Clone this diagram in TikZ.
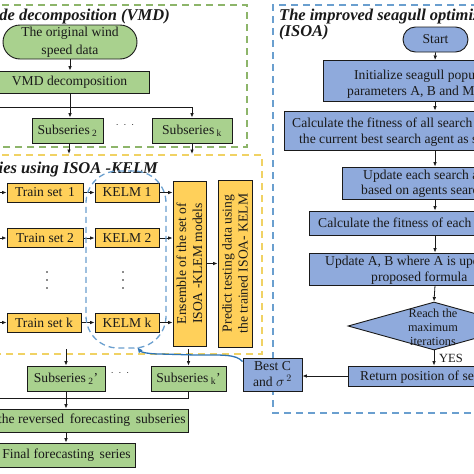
\documentclass[tikz,border=0pt]{standalone}
\usepackage{fontspec}
\setmainfont{Liberation Serif}
\usetikzlibrary{arrows.meta,shapes.geometric,calc}
\definecolor{gfill}{HTML}{A9D18E}
\definecolor{yfill}{HTML}{FFD05A}
\definecolor{bfill}{HTML}{8FAADC}
\definecolor{gdash}{HTML}{8DB56A}
\definecolor{ydash}{HTML}{F0D264}
\definecolor{bdash}{HTML}{6A9FCF}
\definecolor{barrow}{HTML}{2E75B6}
\definecolor{ink}{HTML}{1A1A1A}
\newcommand\bodyfs{\fontsize{13.6}{16}\selectfont}
\newcommand\ttlfs{\fontsize{16.5}{19}\selectfont\bfseries\itshape}
\newcommand\smallfs{\fontsize{12.3}{14}\selectfont}
\tikzset{
  box/.style={draw=ink, line width=0.9pt, inner sep=0pt, text=ink, font=\bodyfs, align=center},
  gbox/.style={box, fill=gfill},
  ybox/.style={box, fill=yfill},
  bbox/.style={box, fill=bfill},
  arr/.style={-{Latex[length=4.5pt,width=3.6pt]}, line width=0.8pt, draw=ink},
  ln/.style={line width=0.8pt, draw=ink},
  txt/.style={inner sep=0pt, text=ink, font=\bodyfs, anchor=base west},
  ttl/.style={inner sep=0pt, text=ink, font=\ttlfs},
  gd/.style={draw=gdash, line width=1.4pt, dash pattern=on 7pt off 5pt},
  yd/.style={draw=ydash, line width=1.4pt, dash pattern=on 7pt off 5pt},
  bd/.style={draw=bdash, line width=1.4pt, dash pattern=on 7pt off 5pt},
}
\begin{document}
\begin{tikzpicture}[x=1pt,y=-1pt]
\useasboundingbox (0,0) rectangle (474,474);
\fill[white] (0,0) rectangle (474,474);
\clip (0,0) rectangle (474,474);

% ---------- dashed frames ----------
\draw[gd] (-10,5) -- (247,5) -- (247,147) -- (-10,147);
\draw[yd] (-10,155) -- (262,155) -- (262,354) -- (-10,354);
\draw[bd] (490,5) -- (273,5) -- (273,413) -- (490,413);

% ---------- titles ----------
\node[ttl, anchor=base east] (t1) at (170,20) {Variational mode decomposition (VMD)};
\node[ttl, anchor=base east] (t2) at (158,173) {Forecasting subseries using ISOA -KELM};
\node[ttl, anchor=base west] (t3) at (279,20) {The improved seagull optimization algorithm};
\node[ttl, anchor=base west] (t3b) at (279,36) {(ISOA)};

% ---------- VMD part ----------
\node[gbox, minimum width=134pt, minimum height=34pt, rounded corners=17pt,
      font=\fontsize{13.6}{18}\selectfont] (orig) at (70,42) {The original wind\\speed data};
\node[gbox, minimum width=159pt, minimum height=22pt] (vmd) at (69.5,82) {VMD decomposition};
\node[gbox, minimum width=71pt, minimum height=25pt] (sub2) at (67.5,130.5) {Subseries\,\textsubscript{2}};
\node[gbox, minimum width=80pt, minimum height=25pt] (subk) at (192,130.5) {Subseries\,\textsubscript{k}};
\node[inner sep=0pt, text=ink] (dots1) at (125,125) {$\cdot\;\cdot\;\cdot$};

\coordinate (j1) at (70,107);
\coordinate (jl) at (-5,107);
\coordinate (jr) at (192,107);
\draw[arr] (orig.south -| j1) -- (vmd.north -| j1);
\draw[ln] (vmd.south -| j1) -- (j1);
\draw[ln] (jl) -- (jr);
\draw[arr] (j1) -- (sub2.north -| j1);
\draw[arr] (jr) -- (subk.north);
\coordinate (s2e) at (69,154);
\coordinate (ske) at (192,154);
\draw[arr] (sub2.south -| s2e) -- (s2e);
\draw[arr] (subk.south) -- (ske);

% ---------- KELM part ----------
\node[ybox, minimum width=76pt, minimum height=19pt] (tr1) at (45,192.5) {Train set\, 1};
\node[ybox, minimum width=76pt, minimum height=19pt] (tr2) at (45,238) {Train set 2};
\node[ybox, minimum width=74pt, minimum height=19pt] (trk) at (44,322.5) {Train set k};
\node[ybox, minimum width=64pt, minimum height=19pt] (k1) at (127,192.5) {KELM 1};
\node[ybox, minimum width=64pt, minimum height=19pt] (k2) at (127,238) {KELM 2};
\node[ybox, minimum width=64pt, minimum height=19pt] (kk) at (127,322.5) {KELM k};
\node[ybox, rotate=90, minimum width=165pt, minimum height=33pt] (ens) at (189.5,263.5)
  {Ensemble of the set of\\ISOA -KLEM models};
\node[ybox, rotate=90, minimum width=167pt, minimum height=34pt] (pred) at (235,263.5)
  {Predict testing data using\\the trained ISOA- KELM};

\foreach \xx in {47,123}{
  \foreach \yy in {272,280,288}{
    \fill[ink] (\xx,\yy) circle (0.9);
  }
}

\coordinate (in1) at (-3,192.5);
\coordinate (in2) at (-3,238);
\coordinate (ink3) at (-3,322.5);
\draw[arr] (in1) -- (tr1.west);
\draw[arr] (in2) -- (tr2.west);
\draw[arr] (ink3) -- (trk.west);
\draw[arr] (tr1) -- (k1);
\draw[arr] (tr2) -- (k2);
\draw[arr] (trk.east) -- (kk.west);
\draw[arr] (k1.east) -- (k1.east -| ens.north);
\draw[arr] (k2.east) -- (k2.east -| ens.north);
\draw[arr] (kk.east) -- (kk.east -| ens.north);
\draw[arr] (ens.south) -- (pred.north);

\node[draw=bdash, line width=1.3pt, dash pattern=on 6pt off 4pt, rounded corners=32pt,
      minimum width=80pt, minimum height=177pt, inner sep=0pt] (grp) at (126,259.5) {};

% ---------- bottom part ----------
\coordinate (a2s) at (66,349);
\coordinate (aks) at (188.5,349);
\node[gbox, minimum width=78pt, minimum height=25pt] (sub2p) at (66,378.5) {Subseries\,\textsubscript{2}'};
\node[gbox, minimum width=75pt, minimum height=25pt] (subkp) at (188.5,378.5) {Subseries\,\textsubscript{k}'};
\node[inner sep=0pt, text=ink] (dots2) at (120,373) {$\cdot\;\cdot\;\cdot$};
\node[gbox, minimum width=213pt, minimum height=23pt] (allrev) at (81.5,420.5)
  {All the reversed\, forecasting\, subseries};
\node[gbox, minimum width=137pt, minimum height=24pt] (final) at (66.5,455) {Final forecasting\, series};
\draw[arr] (a2s) -- (sub2p.north);
\draw[arr] (aks) -- (subkp.north);
\coordinate (j2) at (66,398);
\coordinate (j2l) at (-5,398);
\draw[ln] (subkp.south) -- (subkp.south |- j2) -- (j2l);
\draw[arr] (sub2p.south) -- (sub2p.south |- allrev.north);
\draw[arr] (allrev.south -| sub2p.south) -- (final.north -| sub2p.south);

% ---------- ISOA part ----------
\coordinate (fx) at (435,0);
\node[bbox, minimum width=65pt, minimum height=25pt, rounded corners=12.5pt] (start) at (435.5,39.5) {Start};
\node[bbox, minimum width=237pt, minimum height=41pt] (init) at (441.5,81) {};
\node[txt] (init1) at (354,79.5) {Initialize seagull population and};
\node[txt] (init2) at (347,95.5) {parameters A, B and Max iteration};
\node[bbox, minimum width=276pt, minimum height=39pt] (calc1) at (422,130.5) {};
\node[txt] (calc1a) at (292,127.5) {Calculate the fitness of all search agents,};
\node[txt] (calc1b) at (299,143.5) {the current best search agent as seagull};
\node[bbox, minimum width=218pt, minimum height=32pt] (upd1) at (451,183) {};
\node[txt] (upd1a) at (363,179) {Update each search agent};
\node[txt] (upd1b) at (361,194.5) {based on agents search};
\node[bbox, minimum width=251pt, minimum height=24pt] (calce) at (434.5,223) {};
\node[txt] (calcea) at (318,227.5) {Calculate the fitness of each search agent};
\node[bbox, minimum width=251pt, minimum height=32pt] (updab) at (434.5,269) {};
\node[txt] (updaba) at (325,265.5) {Update A, B where A is updated by the};
\node[txt] (updabb) at (371,281.5) {proposed formula};
\node[bbox, shape=diamond, minimum width=172pt, minimum height=48pt] (diam) at (434,326) {};
\node[inner sep=0pt, text=ink, font=\smallfs, align=center] (diamt) at (433,327.5) {Reach the\\maximum\\iterations};
\node[bbox, minimum width=212pt, minimum height=20pt] (ret) at (454,376) {};
\node[txt] (reta) at (360,380.5) {Return position of seagull};
\node[inner sep=0pt, text=ink, font=\fontsize{12.5}{14}\selectfont, anchor=west] (yes) at (439,358) {YES};

\draw[arr] (start.south) -- (fx |- init.north);
\draw[arr] (fx |- init.south) -- (fx |- calc1.north);
\draw[arr] (fx |- calc1.south) -- (fx |- upd1.north);
\draw[arr] (fx |- upd1.south) -- (fx |- calce.north);
\draw[arr] (fx |- calce.south) -- (fx |- updab.north);
\draw[arr] (fx |- updab.south) -- (diam.north);
\draw[arr] (diam.south) -- (diam.south |- ret.north);

\node[bbox, minimum width=59pt, minimum height=33pt] (bestc) at (272.5,374.5) {Best C\\and $\sigma^{\,2}$};
\draw[arr] (ret.west) -- (ret.west -| bestc.east);

\coordinate (bstart) at ($(bestc.north west)+(0,4)$);
\coordinate (bend) at (137,347);
\draw[line width=1.3pt, draw=barrow, -{Latex[length=6pt,width=5pt]}]
  (bstart) .. controls (236,354) and (222,355) .. (195,355)
  -- (160,354) .. controls (148,354) and (141,352) .. (bend);
\end{tikzpicture}
\end{document}
